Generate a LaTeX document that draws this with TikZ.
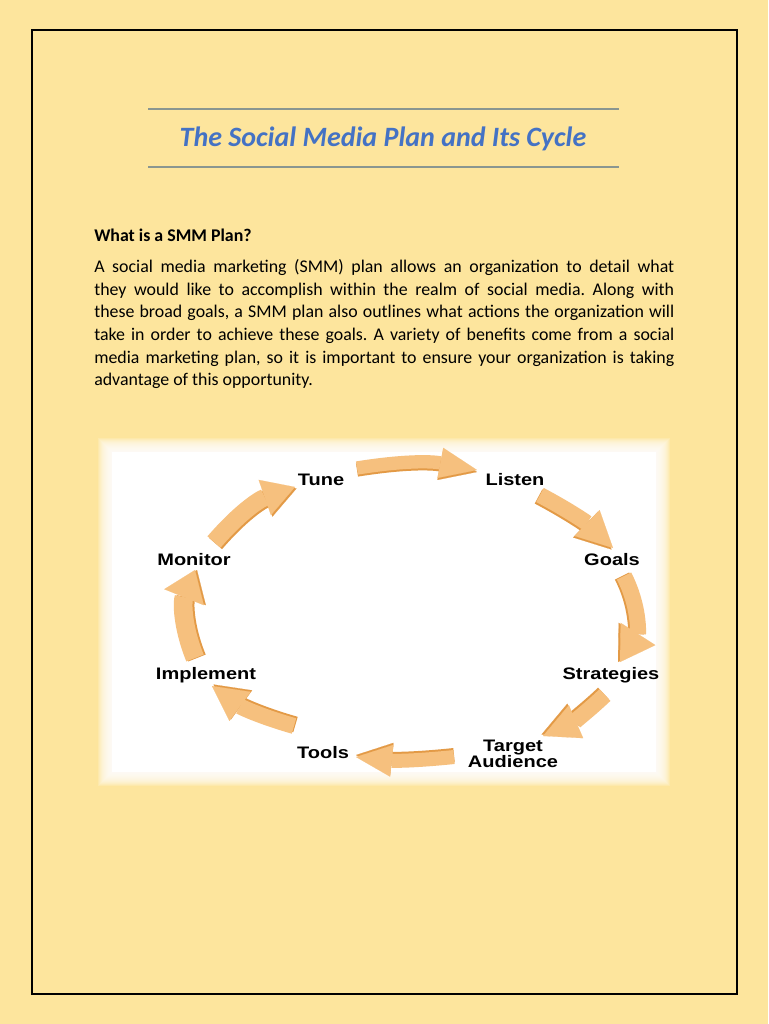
\documentclass[tikz,border=0pt]{standalone}
\usepackage{fontspec}
\setmainfont{Carlito}
\newfontfamily\labfont{Liberation Sans}
\usetikzlibrary{arrows.meta}
\definecolor{pagebg}{HTML}{FDE59D}
\definecolor{ttlblue}{HTML}{4472C4}
\definecolor{rulecol}{HTML}{8A9690}
\definecolor{arrlight}{HTML}{F6C07E}
\definecolor{arrdark}{HTML}{E39A46}
\frenchspacing
\newcommand\sx[1]{\scalebox{1.2}[1]{#1}}
% #1 from, #2 from shift, #3 to, #4 to shift, #5 bend, #6 shade shift, #7 shaft width, #8 head width, #9 head length
\newcommand\cycarrow[9]{%
  \draw[cycdark={#7}{#8}{#9}] ([shift={#2},shift={#6}]#1) to[bend left=#5] ([shift={#4},shift={#6}]#3);
  \draw[cycmain={#7}{#8}{#9}] ([shift={#2}]#1) to[bend left=#5] ([shift={#4}]#3);
}
\tikzset{
  bodyline/.style={anchor=base west, inner sep=0pt, font=\fontsize{13.4}{16}\selectfont},
  lbl/.style={inner sep=0pt, text height=9pt, text depth=0pt, font=\labfont\bfseries\fontsize{12.5}{12}\selectfont},
  cycmain/.style n args={3}{draw=arrlight, line width=#1, -{Triangle[width=#2,length=#3,line width=0.1pt]}},
  cycdark/.style n args={3}{draw=arrdark, line width=#1, -{Triangle[width=#2,length=#3,line width=0.1pt]}},
}
\begin{document}
\begin{tikzpicture}[x=0.75pt,y=-0.75pt]
\useasboundingbox (0,0) rectangle (768,1024);
\fill[pagebg] (0,0) rectangle (768,1024);
\draw[black, line width=0.8pt] (32,30) rectangle (737,994);

% title
\draw[rulecol, line width=1.3pt] (148,109) -- (619,109);
\draw[rulecol, line width=1.3pt] (148,167) -- (619,167);
\node[font=\bfseries\itshape\fontsize{21}{25}\selectfont, text=ttlblue, inner sep=0pt] (title) at (383,139) {The Social Media Plan and Its Cycle};

% text
\node[bodyline, font=\bfseries\fontsize{13.4}{16}\selectfont] (head) at (94,241) {What is a SMM Plan?};
\node[bodyline] (l1) at (94,272.7) {\makebox[435pt][s]{A social media marketing (SMM) plan allows an organization to detail what}};
\node[bodyline] (l2) at (94,295.3) {\makebox[435pt][s]{they would like to accomplish within the realm of social media. Along with}};
\node[bodyline] (l3) at (94,317.9) {\makebox[435pt][s]{these broad goals, a SMM plan also outlines what actions the organization will}};
\node[bodyline] (l4) at (94,340.5) {\makebox[435pt][s]{take in order to achieve these goals. A variety of benefits come from a social}};
\node[bodyline] (l5) at (94,363.1) {\makebox[435pt][s]{media marketing plan, so it is important to ensure your organization is taking}};
\node[bodyline] (l6) at (94,385.7) {advantage of this opportunity.};

% picture area with soft edge
\foreach \i in {0,...,13} \fill[white, opacity=0.16] (98+\i,438+\i) rectangle (670-\i,786-\i);
\fill[white] (112,452) rectangle (656,772);

% labels
\node[lbl] (tune) at (321,479) {\sx{Tune}};
\node[lbl] (listen) at (515,479) {\sx{Listen}};
\node[lbl] (goals) at (612,559) {\sx{Goals}};
\node[lbl] (strat) at (611,673) {\sx{Strategies}};
\node[inner sep=0pt, anchor=north, align=center, font=\labfont\bfseries\fontsize{12.5}{12}\selectfont] (target) at (513,740) {\sx{Target}\\\sx{Audience}};
\node[lbl] (tools) at (323,752) {\sx{Tools}};
\node[lbl] (impl) at (206,673) {\sx{Implement}};
\node[lbl] (monitor) at (194,559) {\sx{Monitor}};

% cycle arrows
\cycarrow{tune.center}{(36,-11)}{listen.center}{(-38,-9)}{10}{(0,2)}{10pt}{23pt}{28pt}
\cycarrow{listen.center}{(25,16)}{goals.center}{(1,-11)}{8}{(-1.5,1.5)}{12pt}{27pt}{27pt}
\cycarrow{goals.center}{(12,17)}{strat.center}{(9,-11)}{30}{(-2,0)}{12pt}{31pt}{25pt}
\cycarrow{strat.center}{(-6,22)}{target.north}{(30,-4)}{10}{(-1.5,-1.5)}{12pt}{27pt}{27pt}
\cycarrow{target.north}{(-59,17)}{tools.center}{(33,5)}{6}{(0,-2)}{10.5pt}{24pt}{27pt}
\cycarrow{tools.center}{(-29,-26)}{impl.center}{(6,13)}{10}{(1.5,-1.5)}{12pt}{27pt}{26pt}
\cycarrow{impl.center}{(-11,-15)}{monitor.center}{(1,11)}{22}{(2,0)}{14pt}{32pt}{22pt}
\cycarrow{monitor.center}{(20,-17)}{tune.center}{(-26,8)}{15}{(1.5,1.5)}{13pt}{28pt}{24pt}
\end{tikzpicture}
\end{document}
